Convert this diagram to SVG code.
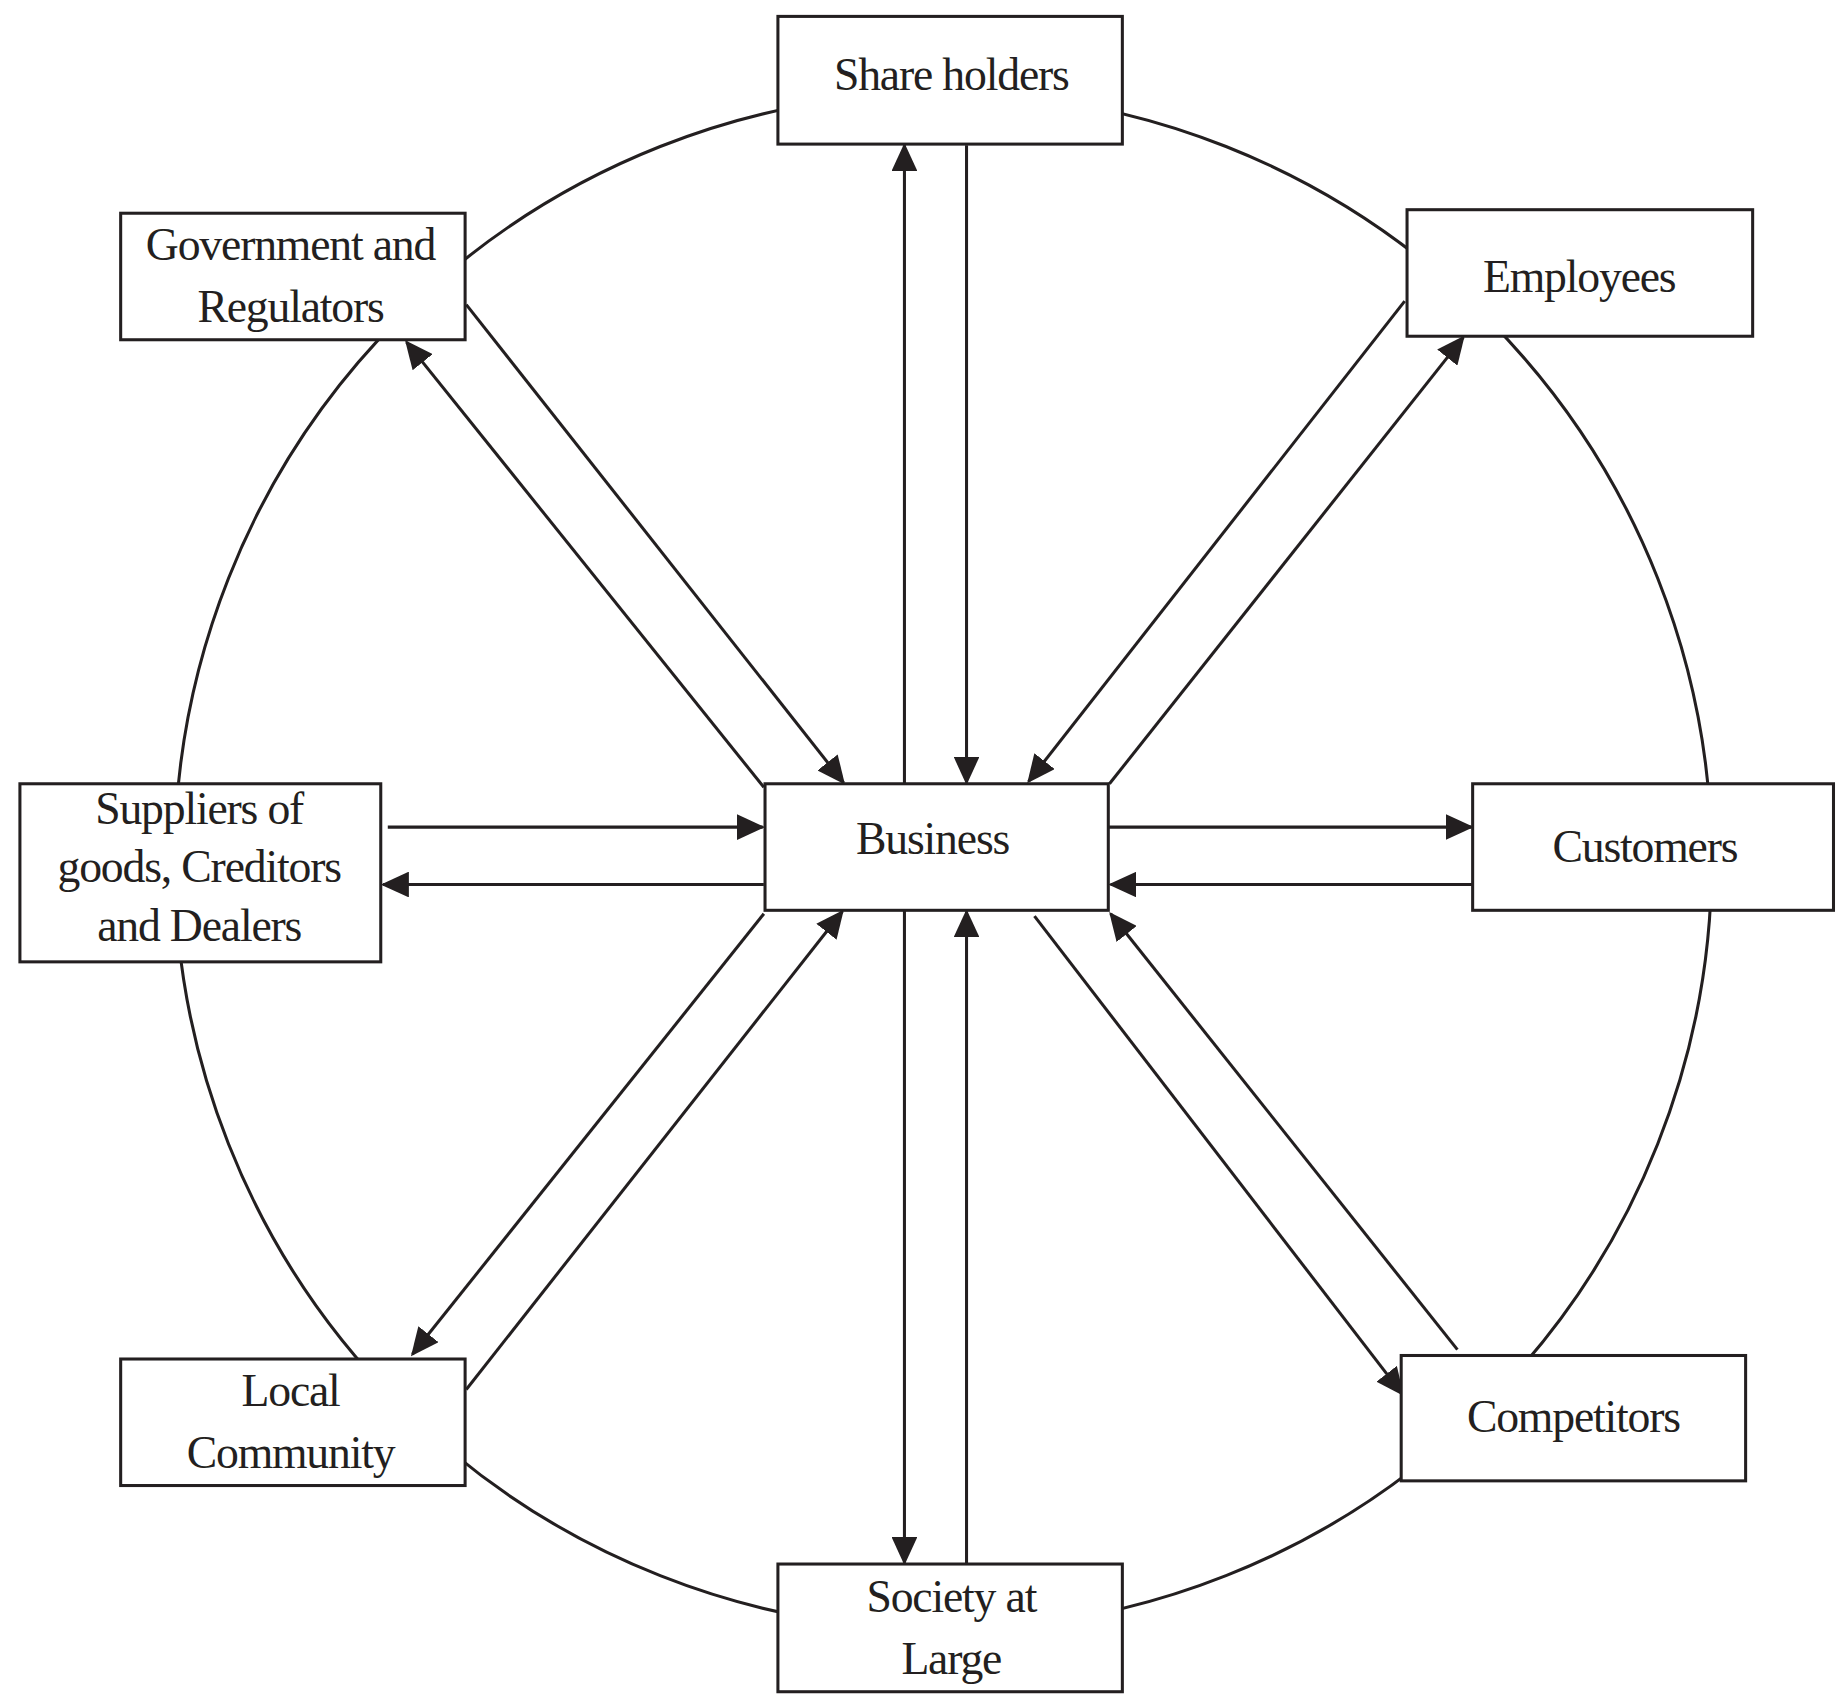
<svg xmlns="http://www.w3.org/2000/svg" width="1837" height="1699" viewBox="0 0 1837 1699">
<style>
.b{fill:#fff;stroke:#231f20;stroke-width:2.6}
.c line{stroke:#231f20;stroke-width:2.6;marker-end:url(#a)}
text{font-family:"Liberation Serif",serif;font-size:39px;fill:#231f20;text-anchor:middle;letter-spacing:-1px}
</style>
<defs><marker id="a" markerUnits="userSpaceOnUse" markerWidth="24" markerHeight="22" refX="22" refY="11" orient="auto"><path d="M0,0L24,11L0,22z" fill="#231f20"/></marker></defs>
<rect width="1837" height="1699" fill="#fff"/>
<g transform="scale(1.17156)">
<circle cx="805" cy="735" r="656" fill="none" stroke="#231f20" stroke-width="2.6"/>
<g class="c" id="connectors">
<line x1="772" y1="669" x2="772" y2="124"/>
<line x1="825" y1="124" x2="825" y2="668"/>
<line x1="1199" y1="257" x2="878" y2="667"/>
<line x1="947" y1="669" x2="1249" y2="288"/>
<line x1="946" y1="706" x2="1256" y2="706"/>
<line x1="1257" y1="755" x2="948" y2="755"/>
<line x1="883" y1="782" x2="1197" y2="1190"/>
<line x1="1244" y1="1152" x2="948" y2="780"/>
<line x1="772" y1="777" x2="772" y2="1334"/>
<line x1="825" y1="1335" x2="825" y2="778"/>
<line x1="652" y1="780" x2="352" y2="1156"/>
<line x1="398" y1="1186" x2="719" y2="778"/>
<line x1="331" y1="706" x2="651" y2="706"/>
<line x1="652" y1="755" x2="327" y2="755"/>
<line x1="652" y1="672" x2="347" y2="292"/>
<line x1="398" y1="260" x2="720" y2="668"/>
</g>
<g id="share"><rect class="b" x="664" y="14" width="294" height="109"/><text x="812" y="77">Share holders</text></g>
<g id="gov"><rect class="b" x="103" y="182" width="294" height="108"/><text x="248" y="222">Government and</text><text x="248" y="275">Regulators</text></g>
<g id="emp"><rect class="b" x="1201" y="179" width="295" height="108"/><text x="1348" y="249">Employees</text></g>
<g id="sup"><rect class="b" x="17" y="669" width="308" height="152"/><text x="170" y="703">Suppliers of</text><text x="170" y="753">goods, Creditors</text><text x="170" y="803">and Dealers</text></g>
<g id="bus"><rect class="b" x="653" y="669" width="293" height="108"/><text x="796" y="729">Business</text></g>
<g id="cust"><rect class="b" x="1257" y="669" width="308" height="108"/><text x="1404" y="736">Customers</text></g>
<g id="local"><rect class="b" x="103" y="1160" width="294" height="108"/><text x="248" y="1200">Local</text><text x="248" y="1253">Community</text></g>
<g id="comp"><rect class="b" x="1196" y="1157" width="294" height="107"/><text x="1343" y="1222">Competitors</text></g>
<g id="soc"><rect class="b" x="664" y="1335" width="294" height="109"/><text x="812" y="1376">Society at</text><text x="812" y="1429">Large</text></g>
</g>
</svg>
